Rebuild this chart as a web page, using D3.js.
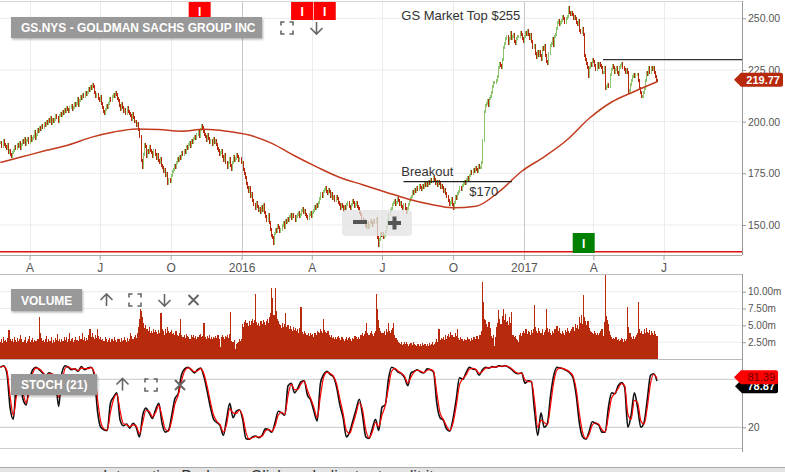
<!DOCTYPE html>
<html><head><meta charset="utf-8">
<script src="https://cdn.jsdelivr.net/npm/d3@7"></script>
<style>
html,body{margin:0;padding:0;background:#fff;}
svg{display:block;font-family:"Liberation Sans",Arial,sans-serif;}
</style></head><body>
<svg id="c" width="785" height="472"></svg>
<script>
// ---------------- DATA ----------------
const startDate = "2015-02-23", endDate = "2017-06-23"; // daily bars, weekdays
const closes = [
190,188,191,189,188, 187,189,185,186,184, 183,185,186,188,187, 189,188,190,187,189,
191,190,192,189,191, 192,190,193,191,192, 193,195,192,194,196, 195,197,196,198,197,
199,198,200,199,201, 200,202,199,201,200, 201,203,202,200,203, 204,203,205,204,206,
205,207,206,205,207, 208,206,207,209,208, 209,211,208,210,212, 211,213,212,214,213,
214,216,215,217,216, 218,217,214,212,213, 211,210,212,209,207, 205,204,206,208,207,
209,211,210,212,213, 212,214,213,211,210, 208,206,209,207,205, 206,204,207,205,204,
203,201,204,202,200, 200,198,199,196,193, 181,178,184,189,188, 183,186,185,188,186,
185,183,186,184,182, 184,181,180,182,179, 178,176,177,174,175, 170,172,171,174,176,
177,179,178,180,182, 181,183,182,185,184, 186,185,188,187,189, 190,188,191,190,192,
193,192,194,195,193, 196,198,197,195,194, 193,191,194,192,190, 191,189,192,190,191,
189,187,186,184,185, 186,183,181,184,180, 178,180,182,179,177, 180,183,181,182,184,
183,181,182,180,180, 177,175,173,170,168, 166,168,164,165,162, 160,158,161,159,157,
158,156,159,157,160, 156,154,152,155,151, 148,145,144,141,146, 148,147,150,149,147,
148,150,151,149,152, 151,153,152,154,155, 153,155,154,152,154, 155,156,154,155,157,
158,156,157,155,154, 153,155,156,154,156, 157,159,158,160,159, 161,163,165,164,166,
167,168,166,165,167, 166,164,165,163,164, 162,164,163,161,160, 158,160,159,157,159,
158,160,161,159,158, 160,162,161,159,160, 161,159,158,156,155, 153,151,152,150,149,
151,149,150,152,151, 150,152,151,153,144, 140,143,146,145,146, 144,145,147,149,152,
155,157,158,160,161, 162,160,161,163,162, 160,161,159,158,160, 158,156,158,160,162,
163,164,166,165,167, 166,168,167,169,168, 167,169,168,170,169, 170,169,171,170,172,
171,173,172,170,171, 169,171,170,168,169, 168,166,167,165,164, 162,160,161,163,160,
158,161,164,163,165, 166,168,167,169,170, 171,170,172,173,172, 174,176,175,177,176,
178,177,176,179,178, 178,180,191,205,208, 209,210,208,211,212, 214,217,219,219,220,
222,226,228,227,226, 230,236,238,240,241, 238,240,243,240,241, 242,239,238,240,241,
241,243,242,240,239, 241,243,242,244,242, 240,242,239,236,237, 233,231,234,232,234,
232,230,236,235,237, 232,229,228,233,237, 238,240,237,241,242, 245,248,249,247,248,
249,251,250,248,250, 251,255,253,252,253, 252,250,251,250,248, 247,249,244,243,245,
242,232,230,228,226, 222,226,228,227,230, 229,227,225,228,226, 228,227,226,224,224,
226,216,217,218,217, 223,225,227,226,224, 225,226,224,223,226, 227,228,226,225,224,
225,224,214,215,218, 220,222,223,222,223, 223,220,216,214,212, 212,214,216,220,224,
223,226,224,226,225, 226,224,222,220,219.77
];
const volumes = [ // millions
2.6,2.9,2.4,3.3,2.7, 2.8,2.5,3.1,4.3,2.9, 2.7,3.0,2.6,3.2,2.8, 2.5,3.1,2.7,2.9,3.6,
3.0,2.6,2.8,3.2,2.4, 2.7,2.9,3.4,2.6,2.8, 3.1,2.5,2.8,2.7,3.0, 2.9,6.2,3.8,3.1,2.7,
2.8,2.6,3.0,3.4,2.5, 2.9,2.7,3.2,2.4,2.8, 2.6,3.1,2.8,3.7,2.7, 3.0,2.5,2.9,2.7,3.3,
2.8,3.2,2.6,3.0,3.8, 2.7,2.9,3.1,2.6,2.8, 3.2,2.8,2.7,3.4,2.9, 3.0,3.9,2.8,3.3,2.7,
3.1,2.8,3.5,4.5,3.2, 3.8,3.3,3.0,3.6,3.1, 4.5,3.4,2.9,3.2,2.8, 3.0,2.7,3.3,2.9,2.6,
2.8,3.1,2.5,3.0,2.9, 2.7,3.2,2.8,2.6,3.0, 2.9,2.5,3.1,2.7,2.8, 3.3,2.8,2.6,3.1,2.7,
3.0,3.8,3.4,2.9,3.2, 3.6,3.1,3.9,4.8,6.0, 7.4,7.2,6.3,5.4,4.6, 5.0,4.5,4.1,4.7,3.8,
4.2,3.9,4.5,4.0,4.3, 4.0,3.7,4.3,3.9,6.8, 4.4,4.1,3.6,4.5,3.9, 4.7,4.2,3.8,4.0,4.3,
3.7,3.9,3.5,4.1,3.6, 3.4,3.8,5.9,3.5,3.3, 3.2,3.5,3.1,3.7,3.4, 3.3,3.0,3.6,3.2,3.5,
3.1,3.4,2.9,3.3,3.2, 3.5,3.7,3.3,3.4,5.3, 3.2,2.9,3.4,3.1,3.5, 3.0,3.3,2.9,3.2,3.1,
3.4,3.1,3.5,2.9,1.8, 3.2,3.6,3.3,3.0,3.4, 3.2,3.5,3.1,3.7,7.0, 2.7,2.5,2.8,1.5,2.2,
2.4,2.6,2.9,2.7,3.0, 5.2,4.8,5.5,5.8,5.3, 4.9,5.6,5.1,5.7,6.0, 5.4,5.8,9.6,5.5,5.0,
5.3,4.9,5.6,5.2,5.8, 5.5,5.1,5.7,6.0,5.4, 6.2,6.8,10.5,9.0,6.5, 10.5,7.2,6.0,5.6,5.2,
5.0,4.6,5.4,4.8,5.2, 6.8,4.7,5.1,4.4,4.9, 4.5,4.2,4.8,4.3,4.6, 4.1,4.4,3.9,4.6,7.7,
4.0,3.7,4.2,3.8,3.5, 3.6,3.9,3.4,3.8,3.5, 3.7,3.3,3.9,3.6,4.2, 4.0,3.8,4.5,4.1,3.9,
6.0,4.3,4.0,3.8,4.1, 3.5,3.2,3.6,3.1,3.3, 3.0,3.3,2.9,3.2,3.4, 3.1,2.8,3.2,3.0,2.7,
2.9,3.2,2.8,3.1,3.3, 3.0,2.7,3.1,2.9,3.4, 3.2,2.9,3.3,3.0,3.6, 3.5,3.9,3.4,3.7,4.2,
5.4,3.8,3.5,3.9,4.1, 3.7,3.4,3.9,4.2,9.6, 7.5,5.8,4.6,4.1,3.8, 3.9,4.2,3.6,4.4,4.0,
5.4,4.1,3.8,4.3,4.6, 5.4,3.5,3.1,2.8,2.6, 2.4,2.2,2.5,2.1,2.3, 2.5,2.2,2.6,2.3,2.0,
2.2,2.4,2.1,2.5,2.3, 2.1,1.9,2.3,2.2,2.0, 2.3,2.0,2.4,2.1,2.2, 2.0,2.3,1.9,2.4,2.1,
2.2,2.5,2.1,2.3,2.6, 3.0,2.6,4.5,2.8,3.1, 2.9,3.3,2.8,3.5,3.0, 3.4,3.7,3.2,4.0,3.5,
3.6,3.2,3.8,3.4,4.5, 3.1,2.8,3.3,3.0,2.9, 2.7,3.0,2.8,3.2,2.9, 3.0,2.7,3.1,2.8,3.3,
3.2,2.9,3.4,3.0,3.5, 3.6,4.2,11.4,8.4,6.0, 5.8,5.2,4.8,5.5,4.6, 3.4,3.1,3.6,2.0,3.2,
4.8,5.4,7.3,5.9,5.2, 6.4,7.5,5.8,6.7,5.5, 5.6,5.0,6.2,5.3,7.0, 3.6,3.2,3.4,3.0,2.8,
2.5,3.6,3.9,3.4,3.8, 4.2,3.9,4.4,3.7,4.1, 4.0,3.6,4.3,3.9,4.5, 8.0,4.8,4.2,3.9,4.6,
4.1,3.8,4.4,3.6,4.0, 4.3,7.5,4.6,4.0,4.4, 3.9,3.6,4.2,3.8,4.5, 4.4,4.9,4.1,4.6,3.9,
3.7,4.2,3.9,3.6,4.3, 4.0,4.6,4.2,3.8,4.1, 4.4,4.8,4.2,5.2,4.6, 5.0,4.5,6.3,5.4,6.6,
5.2,9.5,6.2,5.6,5.0, 5.6,4.6,4.2,4.0,3.9, 3.7,4.1,3.8,3.5,3.9, 3.6,3.9,4.2,4.5,3.4,
5.5,12.7,6.4,5.8,5.2, 4.2,3.5,3.2,3.0,3.1, 2.9,3.2,2.8,3.0,2.7, 2.8,3.1,2.9,2.6,3.0,
2.7,3.0,7.7,4.8,3.9, 3.3,3.0,3.4,2.9,3.2, 3.6,3.9,8.4,4.5,3.8, 4.1,3.7,4.4,3.9,4.6,
4.0,3.8,4.3,3.6,4.1, 3.9,3.5,4.2,3.7,3.4
];
const stochStep = 3; // one %K reading every 3 trading days
const stochK = [
95,97,88,45,30,75,78,55,48,78, 92,95,92,88,84,88,86,80,46,88,
97,95,92,93,90,96,92,94,95,85, 40,20,17,16,50,58,63,29,22,24,
19,25,20,8,35,44,38,31,42,50, 25,14,16,35,56,62,85,93,95,92,
88,92,94,83,65,45,30,26,22,10, 30,50,32,40,42,30,6,5,8,9,
7,10,18,17,14,26,40,38,35,72, 75,63,69,77,78,60,54,40,28,75,
86,90,86,83,70,48,32,8,14,28, 42,55,35,8,6,18,30,16,45,48,
80,95,93,89,87,82,72,88,90,92, 89,88,93,92,89,50,32,29,18,15,
30,55,82,80,88,95,93,92,85,92, 95,94,96,95,97,96,97,95,92,88,
87,88,75,78,77,40,10,38,20,25, 60,85,95,94,93,91,88,82,60,25,
8,5,14,27,25,23,14,14,45,63, 62,72,76,70,20,35,63,45,20,26,
55,85,87,78
];
const maStep = 21; // 200-day moving average read every 21 trading days
const ma200 = [180.2,183.1,186,188.7,192.4,195,196.5,196.2,195.4,196.3,195.4,193.5,189.5,183.5,178,
173,169.5,166,162.6,160,158.3,159.1,166,176,183,191,201.5,209.5,214.6,219.3];
const quarterTicks = ["2015-04-01","2015-07-01","2015-10-01","2016-01-01","2016-04-01","2016-07-01",
  "2016-10-01","2017-01-01","2017-04-01","2017-07-01"];
const quarterLabels = ["A","J","O","2016","A","J","O","2017","A","J"];
const priceTicks = [150,175,200,225,250];
const volumeTicks = [2.5,5,7.5,10];
const stochTicks = [20,80];
const lastPrice = 219.77, lastK = 78.87, lastD = 81.39;
const supportLow = 137;
const breakout = {from:"2016-07-29", to:"2016-12-16", level:171};
const resistance = {from:"2017-04-14", level:230};
const notes = [
  {text:"GS Market Top $255", date:"2016-07-27", price:249.3},
  {text:"Breakout", date:"2016-07-27", price:173.6},
  {text:"$170", date:"2016-10-24", price:163.8}
];
const eventMarks = [
  {date:"2015-11-09", color:"#ff0000", pos:"top"},
  {date:"2016-03-21", color:"#ff0000", pos:"top"},
  {date:"2016-04-19", color:"#ff0000", pos:"top"},
  {date:"2017-03-21", color:"#008000", pos:"bottom"}
];

// ---------------- SETUP ----------------
const svg = d3.select("#c");
const R = 742;
const PT = 1, PB = 255, VT = 274, VB = 359, ST = 359, SB = 448;
const UP = "#8dc46d", DOWN = "#b8290b", VOL = "#b72b0c", MA = "#c23b1e";

const parse = d3.utcParse("%Y-%m-%d");
const start = parse(startDate);
const isWeekday = d => d.getUTCDay() % 6 !== 0;
const days = d3.utcDay.range(start, d3.utcDay.offset(parse(endDate), 1)).filter(isWeekday);
const dayIndex = d => d3.utcDay.range(start, d).filter(isWeekday).length;
const tickDates = quarterTicks.map(parse);
const timeX = d3.scaleUtc().domain([tickDates[0], tickDates[tickDates.length - 1]]).range([29.5, 663.5]);
const tickIdx = tickDates.map(dayIndex);
const x = d3.scaleLinear().domain(tickIdx).range(tickDates.map(timeX));
const xd = s => x(dayIndex(parse(s)));

const y = d3.scaleLinear().domain([150, 250]).range([225, 18.3]);
const yV = d3.scaleLinear().domain([0, 10]).range([VB, 291.7]);
const yS = d3.scaleLinear().domain([0, 100]).range([443.3, 363.3]);

const defs = svg.append("defs");
function clip(id, y0, y1) {
  defs.append("clipPath").attr("id", id).append("rect").attr("x", 0).attr("y", y0).attr("width", R).attr("height", y1 - y0);
}
clip("cp", PT, PB); clip("cv", VT + 1, VB); clip("cs", ST + 1, SB);
const sh = defs.append("filter").attr("id", "sh").attr("x", "-10%").attr("y", "-20%").attr("width", "130%").attr("height", "160%");
sh.append("feDropShadow").attr("dx", 1).attr("dy", 1.5).attr("stdDeviation", 1.2).attr("flood-color", "#000").attr("flood-opacity", 0.3);

// ---------------- PRICE PANEL ----------------
const gP = svg.append("g");
gP.selectAll(".hg").data(priceTicks).join("line")
  .attr("x1", 0).attr("x2", R).attr("y1", d => y(d)).attr("y2", d => y(d))
  .attr("stroke", "#ececec").attr("stroke-width", 1);
gP.selectAll(".vg").data(tickIdx).join("line")
  .attr("x1", d => Math.round(x(d)) + 0.5).attr("x2", d => Math.round(x(d)) + 0.5)
  .attr("y1", PT).attr("y2", PB)
  .attr("stroke", (d, i) => /^\d{4}$/.test(quarterLabels[i]) ? "#c8c8c8" : "#ececec").attr("stroke-width", 1);
svg.append("line").attr("x1", 0).attr("x2", R).attr("y1", 1.5).attr("y2", 1.5).attr("stroke", "#d6d6d6");

gP.append("line").attr("x1", 0).attr("x2", R).attr("y1", y(supportLow)).attr("y2", y(supportLow))
  .attr("stroke", "#e01010").attr("stroke-width", 1.5);

const gB = gP.append("g").attr("clip-path", "url(#cp)").attr("shape-rendering", "crispEdges");
gB.selectAll("line").data(closes).join("line")
  .attr("x1", (d, i) => Math.round(x(i)) + 0.5).attr("x2", (d, i) => Math.round(x(i)) + 0.5)
  .attr("y1", (d, i) => y(Math.max(d, i ? closes[i - 1] : d)) - 1.5)
  .attr("y2", (d, i) => y(Math.min(d, i ? closes[i - 1] : d)) + 1.5)
  .attr("stroke", (d, i) => (i && d < closes[i - 1]) ? DOWN : UP).attr("stroke-width", 1);

gP.append("path").datum(ma200).attr("clip-path", "url(#cp)")
  .attr("d", d3.line().x((d, i) => x(i * maStep)).y(d => y(d)).curve(d3.curveMonotoneX))
  .attr("fill", "none").attr("stroke", MA).attr("stroke-width", 1.5);

gP.append("line").attr("x1", xd(breakout.from)).attr("x2", xd(breakout.to))
  .attr("y1", y(breakout.level)).attr("y2", y(breakout.level)).attr("stroke", "#222").attr("stroke-width", 1.3);
gP.append("line").attr("x1", xd(resistance.from)).attr("x2", R)
  .attr("y1", y(resistance.level)).attr("y2", y(resistance.level)).attr("stroke", "#333").attr("stroke-width", 1.3);
gP.selectAll(".note").data(notes).join("text")
  .attr("x", d => xd(d.date)).attr("y", d => y(d.price))
  .attr("font-size", 13).attr("fill", "#333").text(d => d.text);

const em = gP.selectAll(".em").data(eventMarks).join("g")
  .attr("transform", d => `translate(${xd(d.date)},${d.pos === "top" ? 2 : 233})`);
em.append("rect").attr("x", -11).attr("y", 0).attr("width", 22).attr("height", d => d.pos === "top" ? 18 : 20)
  .attr("fill", d => d.color);
em.append("text").attr("x", 0).attr("y", d => d.pos === "top" ? 14 : 15).attr("text-anchor", "middle")
  .attr("fill", "#fff").attr("font-size", 12).attr("font-weight", "bold").text("I");

svg.append("line").attr("x1", R + 0.5).attr("x2", R + 0.5).attr("y1", 1).attr("y2", PB).attr("stroke", "#999");
svg.append("line").attr("x1", 0).attr("x2", R).attr("y1", PB + 0.5).attr("y2", PB + 0.5).attr("stroke", "#aaa");
const ax = svg.append("g").attr("transform", `translate(0,${PB})`)
  .call(d3.axisBottom(x).tickValues(tickIdx).tickFormat((d, i) => quarterLabels[i]).tickSize(5).tickPadding(3));
ax.select(".domain").remove();
ax.selectAll("line").attr("stroke", "#aaa");
ax.selectAll("text").attr("font-family", "Liberation Sans, Arial, sans-serif").attr("font-size", 12).attr("fill", "#555");

const ay = svg.append("g").attr("transform", `translate(${R},0)`)
  .call(d3.axisRight(y).tickValues(priceTicks).tickFormat(d3.format(".2f")).tickSize(4).tickPadding(2));
ay.select(".domain").remove();
ay.selectAll("line").attr("stroke", "#999");
ay.selectAll("text").attr("font-family", "Liberation Sans, Arial, sans-serif").attr("font-size", 10.5).attr("fill", "#555");

function badge(xl, yc, w, h, fill, txt, tcol) {
  const g = svg.append("g");
  g.append("path").attr("d", `M${xl},${yc} L${xl + 7},${yc - h / 2} L${xl + w - 2},${yc - h / 2} Q${xl + w},${yc - h / 2} ${xl + w},${yc - h / 2 + 2} L${xl + w},${yc + h / 2 - 2} Q${xl + w},${yc + h / 2} ${xl + w - 2},${yc + h / 2} L${xl + 7},${yc + h / 2} Z`)
    .attr("fill", fill);
  g.append("text").attr("x", xl + w - 3).attr("y", yc + 4).attr("text-anchor", "end")
    .attr("font-size", 11).attr("font-weight", tcol === "#fff" ? "bold" : "normal").attr("fill", tcol).text(txt);
}
badge(734, y(lastPrice) - 1, 49, 14, "#b8290b", d3.format(".2f")(lastPrice), "#fff");

const zc = svg.append("g");
zc.append("rect").attr("x", 342).attr("y", 210).attr("width", 70).attr("height", 26).attr("rx", 4)
  .attr("fill", "rgba(225,225,225,0.75)");
zc.append("rect").attr("x", 353).attr("y", 220).attr("width", 14).attr("height", 4).attr("fill", "#555");
zc.append("rect").attr("x", 388).attr("y", 221).attr("width", 13).attr("height", 4).attr("fill", "#555");
zc.append("rect").attr("x", 392.5).attr("y", 216.5).attr("width", 4).attr("height", 13).attr("fill", "#555");

// ---------------- VOLUME PANEL ----------------
svg.append("line").attr("x1", 0).attr("x2", R).attr("y1", VT + 0.5).attr("y2", VT + 0.5).attr("stroke", "#bbb");
svg.selectAll(".vgl").data(volumeTicks).join("line")
  .attr("x1", 0).attr("x2", R).attr("y1", d => yV(d)).attr("y2", d => yV(d)).attr("stroke", "#ececec");
svg.append("g").attr("clip-path", "url(#cv)").attr("shape-rendering", "crispEdges")
  .selectAll("rect").data(volumes).join("rect")
  .attr("x", (d, i) => x(i) - 0.55).attr("width", 1.1)
  .attr("y", d => yV(d)).attr("height", d => yV(0) - yV(d)).attr("fill", VOL);
const avv = svg.append("g").attr("transform", `translate(${R},0)`)
  .call(d3.axisRight(yV).tickValues(volumeTicks).tickFormat(d => d3.format(".2f")(d) + "m").tickSize(4).tickPadding(2));
avv.select(".domain").remove();
avv.selectAll("line").attr("stroke", "#999");
avv.selectAll("text").attr("font-family", "Liberation Sans, Arial, sans-serif").attr("font-size", 10).attr("fill", "#555");

// ---------------- STOCH PANEL ----------------
svg.append("line").attr("x1", 0).attr("x2", R).attr("y1", ST + 0.5).attr("y2", ST + 0.5).attr("stroke", "#bbb");
svg.append("line").attr("x1", 0).attr("x2", R).attr("y1", SB + 0.5).attr("y2", SB + 0.5).attr("stroke", "#ccc");
svg.selectAll(".sgl").data(stochTicks).join("line")
  .attr("x1", 0).attr("x2", R).attr("y1", d => yS(d)).attr("y2", d => yS(d)).attr("stroke", "#c8c8c8");
const stochD = stochK.map((v, j) => j ? (2 * v + stochK[j - 1]) / 3 : v);
const gs = svg.append("g").attr("clip-path", "url(#cs)");
const sl = d3.line().x((d, j) => x(j * stochStep)).y(d => yS(d)).curve(d3.curveMonotoneX);
gs.append("path").datum(stochK).attr("d", sl).attr("fill", "none").attr("stroke", "#111").attr("stroke-width", 1.6);
gs.append("path").datum(stochD).attr("d", sl).attr("fill", "none").attr("stroke", "#f00").attr("stroke-width", 1.2);
const asx = svg.append("g").attr("transform", `translate(${R},0)`)
  .call(d3.axisRight(yS).tickValues(stochTicks).tickSize(4).tickPadding(2));
asx.select(".domain").remove();
asx.selectAll("line").attr("stroke", "#999");
asx.selectAll("text").attr("font-family", "Liberation Sans, Arial, sans-serif").attr("font-size", 10.5).attr("fill", "#555");
svg.append("line").attr("x1", R + 0.5).attr("x2", R + 0.5).attr("y1", VT).attr("y2", SB + 4).attr("stroke", "#999");
badge(735, yS(lastK) + 6, 43, 14, "#000", d3.format(".2f")(lastK), "#fff");
badge(734, yS(lastD) - 1, 44, 14, "#f00", d3.format(".2f")(lastD), "#600");

// ---------------- LABEL BOXES & ICONS ----------------
function labelBox(x0, y0, w, h, txt) {
  svg.append("rect").attr("x", x0).attr("y", y0).attr("width", w).attr("height", h)
    .attr("fill", "#999").attr("filter", "url(#sh)");
  svg.append("text").attr("x", x0 + 10).attr("y", y0 + h / 2 + 4.5).attr("fill", "#fff")
    .attr("font-size", 12).attr("font-weight", "bold").text(txt);
}
labelBox(11, 17, 251, 21, "GS.NYS - GOLDMAN SACHS GROUP INC");
labelBox(11, 289, 71, 22, "VOLUME");
labelBox(11, 374, 86, 21, "STOCH (21)");

const ic = svg.append("g").attr("fill", "none").attr("stroke", "#666").attr("stroke-width", 1.6);
function expand(cx, cy) {
  const s = 6, a = 3.5;
  ic.append("path").attr("d",
    `M${cx - s},${cy - s + a}V${cy - s}H${cx - s + a} M${cx + s - a},${cy - s}H${cx + s}V${cy - s + a}` +
    `M${cx + s},${cy + s - a}V${cy + s}H${cx + s - a} M${cx - s + a},${cy + s}H${cx - s}V${cy + s - a}`);
}
function arrow(cx, cy, dir) {
  const d = dir === "down" ? 1 : -1;
  ic.append("path").attr("d", `M${cx},${cy - 6 * d}V${cy + 6 * d} M${cx - 6},${cy} L${cx},${cy + 6 * d} L${cx + 6},${cy}`);
}
function cross(cx, cy) {
  ic.append("path").attr("d", `M${cx - 5},${cy - 5}L${cx + 5},${cy + 5} M${cx + 5},${cy - 5}L${cx - 5},${cy + 5}`).attr("stroke-width", 2);
}
expand(287, 28); arrow(316.5, 28, "down");
arrow(106.5, 300, "up"); expand(135, 300); arrow(164.5, 300, "down"); cross(193.5, 300);
arrow(122.5, 384.5, "up"); expand(151, 385); cross(180, 385);

// bottom strip
svg.append("rect").attr("x", 0).attr("y", 467).attr("width", 785).attr("height", 5).attr("fill", "#e4e4e4");
svg.append("line").attr("x1", 0).attr("x2", 785).attr("y1", 467.5).attr("y2", 467.5).attr("stroke", "#aaa");
svg.append("text").attr("x", 103).attr("y", 482).attr("font-size", 16).attr("fill", "#333")
  .text("Interactive Brokers - Click on Indicator to edit it");
</script>
</body></html>
